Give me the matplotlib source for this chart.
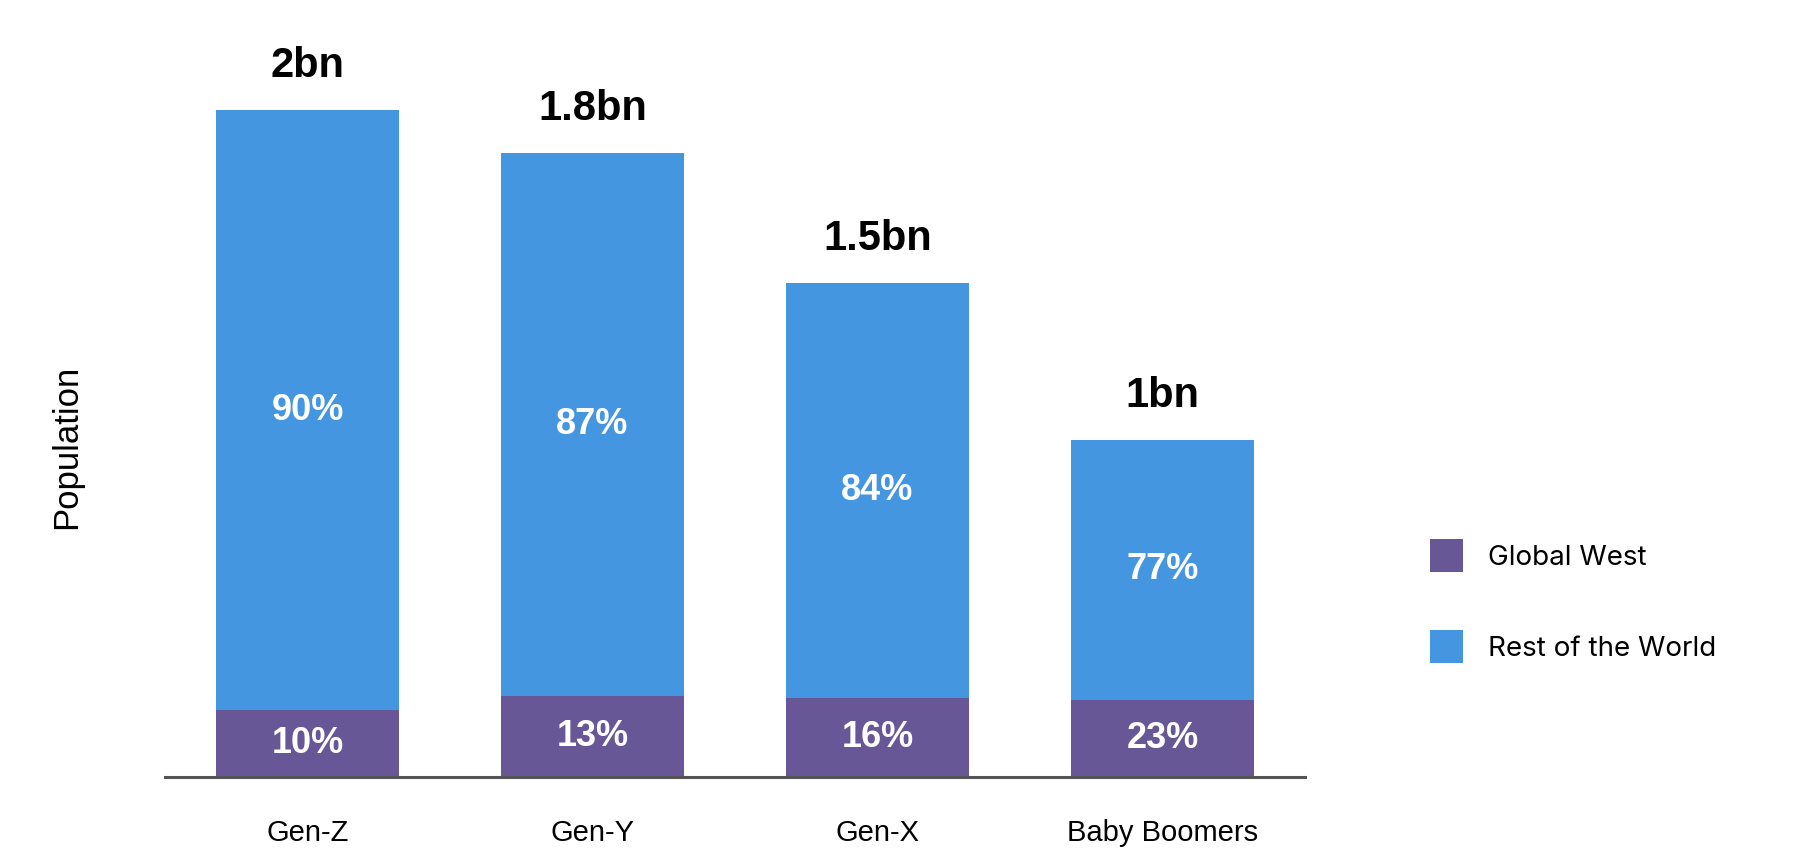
import numpy as np
import matplotlib
matplotlib.use('Agg')
import matplotlib.pyplot as plt
from matplotlib.patches import Patch

generations = ['Gen-Z', 'Gen-Y', 'Gen-X', 'Baby Boomers']
totals = [2.0, 1.87, 1.48, 1.01]          # billions
total_labels = ['2bn', '1.8bn', '1.5bn', '1bn']
west_pct = [10, 13, 16, 23]
rest_pct = [90, 87, 84, 77]

blue = '#4596E0'
purple = '#675796'

plt.rcParams['font.family'] = ['Liberation Sans', 'DejaVu Sans']

fig = plt.figure(figsize=(18, 8.68), dpi=100)
ax = fig.add_axes([0.0917, 0.1048, 0.6333, 0.8453])

x = np.arange(len(generations))
totals = np.array(totals)
west = totals * np.array(west_pct) / 100.0
rest = totals - west

ax.bar(x, west, width=0.64, color=purple, label='Global West', zorder=2)
ax.bar(x, rest, width=0.64, bottom=west, color=blue, label='Rest of the World', zorder=2)

for i in range(len(x)):
    ax.text(x[i], west[i] / 2, str(west_pct[i]) + '%', ha='center', va='center',
            color='white', fontsize=26, fontweight='bold', zorder=3)
    ax.text(x[i], west[i] + rest[i] / 2, str(rest_pct[i]) + '%', ha='center', va='center',
            color='white', fontsize=26, fontweight='bold', zorder=3)
    ax.annotate(total_labels[i], (x[i], totals[i]), xytext=(0, 23.8),
                textcoords='offset points', ha='center', va='baseline',
                fontsize=30, fontweight='bold', color='black', annotation_clip=False)

ax.set_xlim(-0.5, 3.5)
ax.set_ylim(0, 2.2)
ax.set_xticks(x)
ax.set_xticklabels(generations, fontsize=21, va='center')
ax.tick_params(axis='x', length=0, pad=40)
ax.set_yticks([])
for s in ['top', 'right', 'left']:
    ax.spines[s].set_visible(False)
ax.spines['bottom'].set_color('#555555')
ax.spines['bottom'].set_linewidth(2.2)
ax.spines['bottom'].set_zorder(4)

ax.set_ylabel('Population', fontsize=25, labelpad=0)
ax.yaxis.set_label_coords(-0.072, 0.45)

handles = [Patch(facecolor=purple, label='Global West'),
           Patch(facecolor=blue, label='Rest of the World')]
fig.legend(handles=handles, loc='upper left', bbox_to_anchor=(1430 / 1800, 1 - 539 / 868),
           frameon=False, borderpad=0, borderaxespad=0, handlelength=1.19,
           handleheight=1.45, handletextpad=0.9, labelspacing=2.1,
           prop={'family': 'Inter', 'size': 20})

plt.savefig('out.png', dpi=100)
